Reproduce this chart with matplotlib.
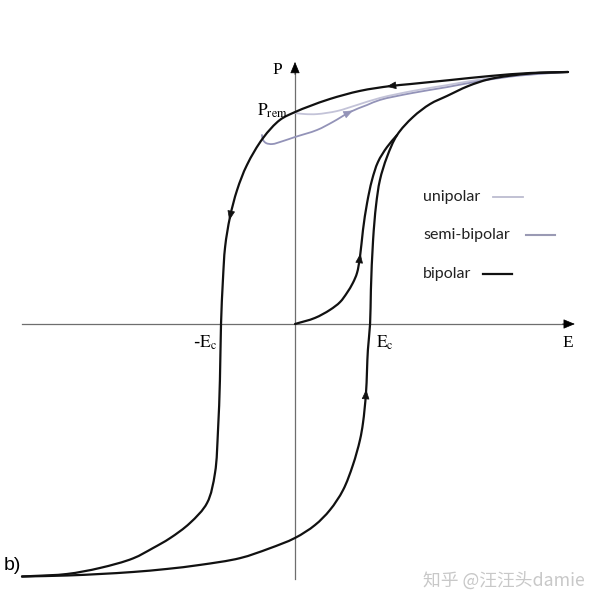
import numpy as np
import matplotlib
matplotlib.use("Agg")
import matplotlib.pyplot as plt
from matplotlib.path import Path
from matplotlib.patches import PathPatch

plt.rcParams['mathtext.fontset'] = 'stix'

# ---- data (normalised E/Emax, P/Pmax) ----
upper_E = [1.000, 0.861, 0.714, 0.568, 0.421, 0.348, 0.238, 0.128, 0.055, 0.000,
           -0.055, -0.117, -0.176, -0.212, -0.238, -0.256, -0.264, -0.271, -0.275,
           -0.282, -0.293, -0.322, -0.385, -0.458, -0.520, -0.593,
           -0.714, -0.835, -0.960, -1.000]
upper_P = [1.000, 0.996, 0.984, 0.968, 0.952, 0.944, 0.925, 0.893, 0.865, 0.841,
           0.810, 0.738, 0.631, 0.532, 0.425, 0.306, 0.175, 0.000, -0.222,
           -0.421, -0.591, -0.710, -0.790, -0.850, -0.889, -0.930,
           -0.968, -0.992, -1.000, -1.002]

lower_E = [-1.000, -0.835, -0.714, -0.593, -0.469, -0.348, -0.201, -0.095, 0.000,
           0.073, 0.128, 0.176, 0.212, 0.238, 0.249, 0.260, 0.267, 0.275,
           0.278, 0.286, 0.297, 0.311, 0.337, 0.374, 0.432, 0.495, 0.557, 0.634,
           0.714, 0.861, 1.000]
lower_P = [-1.002, -0.998, -0.992, -0.984, -0.972, -0.956, -0.929, -0.891, -0.849,
           -0.798, -0.738, -0.659, -0.560, -0.460, -0.393, -0.274, -0.103,
           0.000, 0.135, 0.333, 0.472, 0.571, 0.663, 0.750, 0.821, 0.873, 0.905,
           0.944, 0.972, 0.994, 1.000]

virgin_E = [0.000, 0.073, 0.128, 0.165, 0.190, 0.212, 0.227, 0.238, 0.249, 0.264,
            0.282, 0.304, 0.337, 0.374]
virgin_P = [0.000, 0.024, 0.056, 0.087, 0.123, 0.163, 0.202, 0.266, 0.373, 0.480,
            0.571, 0.643, 0.702, 0.750]

uni_E = [0.000, 0.037, 0.081, 0.154, 0.227, 0.311, 0.432, 0.557, 0.678, 0.824, 1.000]
uni_P = [0.837, 0.833, 0.833, 0.845, 0.869, 0.897, 0.925, 0.948, 0.970, 0.988, 1.000]

semi_E = [-0.121, -0.117, -0.106, -0.084, -0.044, 0.000, 0.081, 0.139, 0.201, 0.264,
          0.311, 0.432, 0.557, 0.678, 0.824, 1.000]
semi_P = [0.750, 0.730, 0.718, 0.714, 0.726, 0.742, 0.770, 0.802, 0.841, 0.869,
          0.889, 0.917, 0.940, 0.964, 0.986, 1.000]

legend_labels = ["unipolar", "semi-bipolar", "bipolar"]

# ---- styles ----
C_BIP = "#111111"
C_UNI = "#c3c3d8"
C_SEMI = "#9393b8"
C_AXIS = "#6e6e6e"
SX, SY = 273.0, 252.0   # pixel per unit (for the spline metric)


def smooth_path(xs, ys, alpha=0.5):
    pts = np.column_stack([np.asarray(xs) * SX, np.asarray(ys) * SY])
    n = len(pts)
    verts = [pts[0]]
    codes = [Path.MOVETO]
    for i in range(n - 1):
        p1 = pts[i]
        p2 = pts[i + 1]
        p0 = pts[i - 1] if i > 0 else 2 * p1 - p2
        p3 = pts[i + 2] if i + 2 < n else 2 * p2 - p1
        d0 = max(np.hypot(*(p1 - p0)) ** alpha, 1e-6)
        d1 = max(np.hypot(*(p2 - p1)) ** alpha, 1e-6)
        d2 = max(np.hypot(*(p3 - p2)) ** alpha, 1e-6)
        m1 = ((p1 - p0) / d0 - (p2 - p0) / (d0 + d1) + (p2 - p1) / d1) * d1
        m2 = ((p2 - p1) / d1 - (p3 - p1) / (d1 + d2) + (p3 - p2) / d2) * d1
        verts += [p1 + m1 / 3.0, p2 - m2 / 3.0, p2]
        codes += [Path.CURVE4] * 3
    verts = np.array(verts)
    verts[:, 0] /= SX
    verts[:, 1] /= SY
    return Path(verts, codes)


def draw_curve(ax, xs, ys, color, lw):
    ax.add_patch(PathPatch(smooth_path(xs, ys), fill=False, edgecolor=color,
                           lw=lw, capstyle='round', joinstyle='round', zorder=3))


def head(ax, xs, ys, i, color, scale=11):
    p = np.array([xs[i], ys[i]])
    d = np.array([(xs[i + 1] - xs[i - 1]) * SX, (ys[i + 1] - ys[i - 1]) * SY])
    d = d / np.hypot(*d)
    d = np.array([d[0] / SX, d[1] / SY])
    ax.annotate('', xy=p + d * 3.5, xytext=p - d * 3.5,
                arrowprops=dict(arrowstyle='-|>,head_length=0.55,head_width=0.22',
                                mutation_scale=scale, color=color, lw=0.5,
                                shrinkA=0, shrinkB=0), zorder=4)


fig = plt.figure(figsize=(5.98, 6.04), dpi=100)
ax = fig.add_axes([0, 0, 1, 1])
ax.set_xlim(-1.0806, 1.1099)
ax.set_ylim(-1.1111, 1.2857)
ax.axis('off')

# axes with arrows
ax.plot([-1.0, 1.0], [0, 0], color=C_AXIS, lw=0.9, zorder=1)
ax.plot([0, 0], [-1.01, 1.02], color=C_AXIS, lw=0.9, zorder=1)
ax.annotate('', xy=(1.025, 0), xytext=(0.98, 0),
            arrowprops=dict(arrowstyle='-|>,head_length=0.6,head_width=0.25',
                            mutation_scale=12, color='black', lw=0.5,
                            shrinkA=0, shrinkB=0))
ax.annotate('', xy=(0, 1.04), xytext=(0, 0.99),
            arrowprops=dict(arrowstyle='-|>,head_length=0.6,head_width=0.25',
                            mutation_scale=12, color='black', lw=0.5,
                            shrinkA=0, shrinkB=0))

# curves
draw_curve(ax, uni_E, uni_P, C_UNI, 1.3)
draw_curve(ax, semi_E, semi_P, C_SEMI, 1.3)
draw_curve(ax, upper_E, upper_P, C_BIP, 1.6)
draw_curve(ax, lower_E, lower_P, C_BIP, 1.6)
draw_curve(ax, virgin_E, virgin_P, C_BIP, 1.6)

head(ax, upper_E, upper_P, 5, C_BIP)
head(ax, upper_E, upper_P, 14, C_BIP)
head(ax, lower_E, lower_P, 15, C_BIP)
head(ax, virgin_E, virgin_P, 7, C_BIP)
head(ax, semi_E, semi_P, 8, C_SEMI)

# axis labels
ax.text(-0.066, 1.008, 'P', fontsize=12.5, family='Liberation Serif',
        ha='center', va='center')
ax.text(1.0, -0.075, 'E', fontsize=12.5, family='Liberation Serif',
        ha='center', va='center')
ax.text(0.297, -0.075, r'$\mathrm{E}_\mathrm{c}$', fontsize=12.5,
        ha='left', va='center')
ax.text(-0.287, -0.075, r'-$\mathrm{E}_\mathrm{c}$', fontsize=12.5,
        ha='right', va='center')
ax.text(-0.139, 0.826, r'$\mathrm{P}_\mathrm{rem}$', fontsize=12.5,
        ha='left', va='baseline')
ax.text(-1.066, -0.960, 'b)', fontsize=14, family='Liberation Sans',
        ha='left', va='center')

# legend
leg_y = [0.504, 0.353, 0.200]
leg_line = [(0.725, 0.835), (0.846, 0.952), (0.689, 0.795)]
leg_col = ["#bcbcd0", "#9a9ab4", C_BIP]
leg_lw = [1.3, 1.5, 1.6]
for lab, y, (x0, x1), c, lw in zip(legend_labels, leg_y, leg_line, leg_col, leg_lw):
    ax.text(0.469, y, lab, fontsize=11.5, family='Lato', color='#222222',
            ha='left', va='center')
    ax.plot([x0, x1], [y, y], color=c, lw=lw)

# watermark
ax.text(0.469, -1.024, '知乎 @汪汪头damie', fontsize=12.8,
        family=['Noto Sans CJK SC', 'DejaVu Sans'], color='#c8c8c8',
        ha='left', va='center')

fig.savefig('out.png', dpi=100, facecolor='white')
